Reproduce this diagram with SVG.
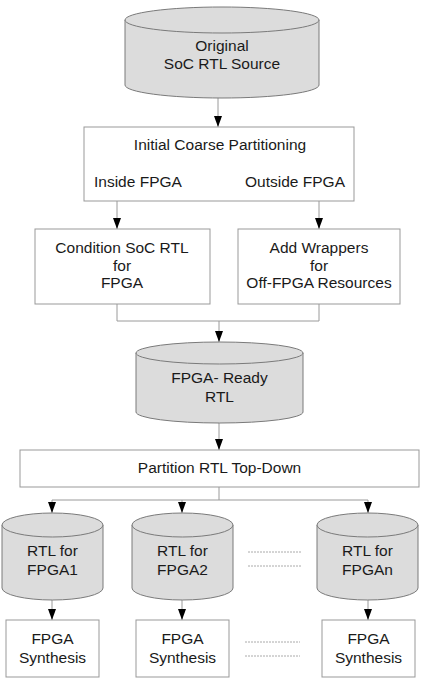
<svg xmlns="http://www.w3.org/2000/svg" width="421" height="678" viewBox="0 0 421 678">
<style>
.bg{fill:#ffffff}
.box{fill:#ffffff;stroke:#999999;stroke-width:1}
.cyl{fill:#dcdcdc;stroke:#7a7a7a;stroke-width:1}
.lbl{font-family:"Liberation Sans",Arial,sans-serif;font-size:15.5px;fill:#1a1a1a;text-anchor:middle}
.conn{fill:none;stroke:#9a9a9a;stroke-width:1}
.ah{fill:#000000}
.dot{fill:none;stroke:#aaaaaa;stroke-width:1;stroke-dasharray:2,1}
</style>
<rect class="bg" x="0" y="0" width="421" height="678"/>

<g id="connectors">
<path class="conn" d="M218,98 V127"/>
<path class="conn" d="M117,201 V229"/>
<path class="conn" d="M319,201 V229"/>
<path class="conn" d="M117,304 V321 H319 V304"/>
<path class="conn" d="M219,321 V342"/>
<path class="conn" d="M219,423 V450"/>
<path class="conn" d="M219,487 V500"/>
<path class="conn" d="M52,513 V500 H368 V513"/>
<path class="conn" d="M182,500 V513"/>
<path class="conn" d="M52,600 V620"/>
<path class="conn" d="M182,600 V620"/>
<path class="conn" d="M368,600 V620"/>
<path class="ah" d="M214,116 L222,116 L218,127 Z"/>
<path class="ah" d="M113,218 L121,218 L117,229 Z"/>
<path class="ah" d="M315,218 L323,218 L319,229 Z"/>
<path class="ah" d="M215,331 L223,331 L219,342 Z"/>
<path class="ah" d="M215,439 L223,439 L219,450 Z"/>
<path class="ah" d="M48,502 L56,502 L52,513 Z"/>
<path class="ah" d="M178,502 L186,502 L182,513 Z"/>
<path class="ah" d="M364,502 L372,502 L368,513 Z"/>
<path class="ah" d="M48,609 L56,609 L52,620 Z"/>
<path class="ah" d="M178,609 L186,609 L182,620 Z"/>
<path class="ah" d="M364,609 L372,609 L368,620 Z"/>
<line class="dot" x1="248" y1="552" x2="302" y2="552"/>
<line class="dot" x1="248" y1="566" x2="302" y2="566"/>
<line class="dot" x1="245" y1="642" x2="300" y2="642"/>
<line class="dot" x1="245" y1="656" x2="300" y2="656"/>
</g>

<g id="n-original">
<path class="cyl" d="M125,20 V85 A97,13 0 0 0 319,85 V20 Z"/>
<ellipse class="cyl" cx="222" cy="20" rx="97" ry="13"/>
<text class="lbl" x="222" y="51">Original</text>
<text class="lbl" x="222" y="69">SoC RTL Source</text>
</g>

<g id="n-initial">
<rect class="box" x="84" y="127" width="270" height="74"/>
<text class="lbl" x="220" y="150">Initial Coarse Partitioning</text>
<text class="lbl" x="94" y="187" style="text-anchor:start">Inside FPGA</text>
<text class="lbl" x="345" y="187" style="text-anchor:end">Outside FPGA</text>
</g>

<g id="n-condition">
<rect class="box" x="35" y="229" width="175" height="75"/>
<text class="lbl" x="122" y="253">Condition SoC RTL</text>
<text class="lbl" x="122" y="271">for</text>
<text class="lbl" x="122" y="288">FPGA</text>
</g>

<g id="n-wrappers">
<rect class="box" x="238" y="229" width="162" height="75"/>
<text class="lbl" x="319" y="253">Add Wrappers</text>
<text class="lbl" x="319" y="271">for</text>
<text class="lbl" x="319" y="288">Off-FPGA Resources</text>
</g>

<g id="n-ready">
<path class="cyl" d="M136,353 V412 A83.5,11 0 0 0 303,412 V353 Z"/>
<ellipse class="cyl" cx="219.5" cy="353" rx="83.5" ry="11"/>
<text class="lbl" x="219.5" y="383">FPGA- Ready</text>
<text class="lbl" x="219.5" y="402">RTL</text>
</g>

<g id="n-partition">
<rect class="box" x="20" y="450" width="399" height="37"/>
<text class="lbl" x="219.5" y="473">Partition RTL Top-Down</text>
</g>

<g id="n-rtl1">
<path class="cyl" d="M2,525 V588 A50.5,12 0 0 0 103,588 V525 Z"/>
<ellipse class="cyl" cx="52.5" cy="525" rx="50.5" ry="12"/>
<text class="lbl" x="52.5" y="556">RTL for</text>
<text class="lbl" x="52.5" y="575">FPGA1</text>
</g>

<g id="n-rtl2">
<path class="cyl" d="M132,525 V588 A50.5,12 0 0 0 233,588 V525 Z"/>
<ellipse class="cyl" cx="182.5" cy="525" rx="50.5" ry="12"/>
<text class="lbl" x="182.5" y="556">RTL for</text>
<text class="lbl" x="182.5" y="575">FPGA2</text>
</g>

<g id="n-rtln">
<path class="cyl" d="M317,525 V588 A50.5,12 0 0 0 418,588 V525 Z"/>
<ellipse class="cyl" cx="367.5" cy="525" rx="50.5" ry="12"/>
<text class="lbl" x="367.5" y="556">RTL for</text>
<text class="lbl" x="367.5" y="575">FPGAn</text>
</g>

<g id="n-syn1">
<rect class="box" x="6" y="620" width="93" height="57"/>
<text class="lbl" x="52.5" y="644">FPGA</text>
<text class="lbl" x="52.5" y="663">Synthesis</text>
</g>

<g id="n-syn2">
<rect class="box" x="136" y="620" width="93" height="57"/>
<text class="lbl" x="182.5" y="644">FPGA</text>
<text class="lbl" x="182.5" y="663">Synthesis</text>
</g>

<g id="n-synn">
<rect class="box" x="322" y="620" width="93" height="57"/>
<text class="lbl" x="368.5" y="644">FPGA</text>
<text class="lbl" x="368.5" y="663">Synthesis</text>
</g>
</svg>
